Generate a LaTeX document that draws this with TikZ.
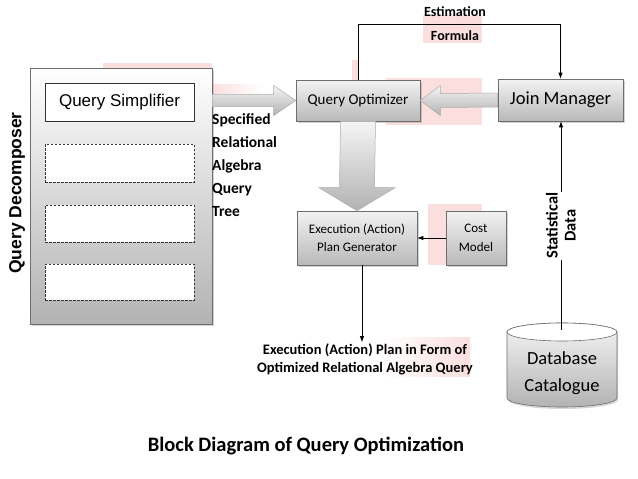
\documentclass[tikz,border=0pt]{standalone}
\usepackage{fontspec}
\setmainfont{Carlito}
\newfontfamily\arialfont{Liberation Sans}
\usetikzlibrary{calc,arrows.meta,shadows}
\definecolor{pinkish}{RGB}{251,222,222}
\definecolor{edgegray}{RGB}{110,110,110}
\tikzset{
  gbox/.style={rectangle, draw=edgegray, line width=0.6pt, inner sep=0pt,
    top color=gray!10, bottom color=gray!55,
    drop shadow={shadow xshift=2pt, shadow yshift=-2pt, opacity=.35, fill=gray}},
  dbox/.style={rectangle, draw=black!80, line width=0.6pt, dash pattern=on 2.5pt off 1.5pt,
    fill=white, minimum width=149pt, inner sep=0pt},
  fatarrow/.style={draw=gray!65, line width=0.5pt, top color=gray!8, bottom color=gray!60},
  conn/.style={draw=black, line width=0.8pt, -{Latex[length=6pt,width=4.5pt]}},
  lbl/.style={font=\bfseries\fontsize{15.5}{23}\selectfont, inner sep=0pt},
  hl/.style={fill=pinkish, draw=none}
}
\begin{document}
\begin{tikzpicture}[x=1pt,y=-1pt]
\useasboundingbox[fill=white] (0,0) rectangle (638,479);

% faint pink highlights
\fill[hl] (103,63) rectangle (212,68);
\fill[hl, left color=pinkish, right color=white] (212,84) rectangle (262,93);
\fill[hl] (386,78) rectangle (482,125);
\fill[hl] (423,15) rectangle (482,43);
\fill[hl] (352,60) rectangle (359,80);
\fill[hl] (428,204) rectangle (482,265);
\fill[hl, left color=white, right color=pinkish] (380,337) rectangle (470,376);

% query decomposer
\node[gbox, top color=white, bottom color=gray!60, minimum width=182pt, minimum height=256pt] (qd) at (121,196) {};
\node[rotate=90, font=\arialfont\bfseries\fontsize{17.5}{20}\selectfont] (qdl) at (17,193) {Query Decomposer};
\node[rectangle, draw=black!80, line width=0.6pt, fill=white, minimum width=149pt, minimum height=38pt, inner sep=0pt,
  font=\arialfont\fontsize{17}{19}\selectfont] (qs) at (119.5,102) {Query Simplifier};
\node[dbox, minimum height=38pt] (d1) at (119.5,163) {};
\node[dbox, minimum height=37pt] (d2) at (119.5,223.5) {};
\node[dbox, minimum height=36pt] (d3) at (119.5,282) {};

% optimizer and join manager
\node[gbox, minimum width=124pt, minimum height=41pt, font=\fontsize{15}{17}\selectfont] (qo) at (358,100.5) {Query Optimizer};
\node[gbox, minimum width=125pt, minimum height=42pt, font=\fontsize{18.5}{21}\selectfont] (jm) at (560.5,100) {Join Manager};

% plan generator and cost model
\node[gbox, minimum width=120pt, minimum height=54pt, align=center, font=\fontsize{13}{18.5}\selectfont] (pg) at (357,238) {Execution (Action)\\Plan Generator};
\node[gbox, minimum width=60pt, minimum height=54pt, align=center, font=\fontsize{13}{18.5}\selectfont] (cm) at (476,238) {Cost\\Model};

% labels
\node[lbl, anchor=north west, align=left] (sral) at (212,113) {Specified\\Relational\\Algebra\\Query\\Tree};
\node[font=\bfseries\fontsize{14}{16}\selectfont, inner sep=0pt] (est) at (455,12) {Estimation};
\node[font=\bfseries\fontsize{14}{16}\selectfont, inner sep=0pt] (form) at (455,36) {Formula};
\node[align=center, font=\bfseries\fontsize{14.5}{18}\selectfont, inner sep=1pt] (outl) at (365,359) {Execution (Action) Plan in Form of\\Optimized Relational Algebra Query};
\node[font=\bfseries\fontsize{20.5}{23}\selectfont] (cap) at (306,446) {Block Diagram of Query Optimization};

% fat arrows
\coordinate (a1s) at (qd.east |- qo.west);
\coordinate (a1t) at (qo.west);
\path[fatarrow] ($(a1s)+(0,-6)$) -- ($(a1t)+(-22,-6)$) -- ($(a1t)+(-22,-15)$) -- (a1t)
  -- ($(a1t)+(-22,15)$) -- ($(a1t)+(-22,6)$) -- ($(a1s)+(0,6)$) -- cycle;
\coordinate (a2s) at (jm.west);
\coordinate (a2t) at (qo.east);
\path[fatarrow] ($(a2s)+(0,-7)$) -- ($(a2t)+(20,-7)$) -- ($(a2t)+(20,-15)$) -- (a2t)
  -- ($(a2t)+(20,15)$) -- ($(a2t)+(20,7)$) -- ($(a2s)+(0,7)$) -- cycle;
\coordinate (a3s) at (qo.south);
\coordinate (a3t) at (pg.north);
\path[fatarrow] ($(a3s)+(-17.5,0)$) -- ($(a3t)+(-17.5,-23)$) -- ($(a3t)+(-38,-23)$) -- (a3t)
  -- ($(a3t)+(38,-23)$) -- ($(a3t)+(17.5,-23)$) -- ($(a3s)+(17.5,0)$) -- cycle;

% database catalogue cylinder
\path[draw=edgegray, line width=0.6pt, top color=gray!8, bottom color=gray!60,
  drop shadow={shadow xshift=1pt, shadow yshift=-2pt, opacity=.3, fill=gray}]
  (507,332) -- (507,398) arc[start angle=180, end angle=0, x radius=55, y radius=9]
  -- (617,332) arc[start angle=0, end angle=-180, x radius=55, y radius=9] -- cycle;
\draw[edgegray, line width=0.6pt, fill=white] (562,332) ellipse[x radius=55, y radius=9];
\node[align=center, font=\fontsize{18.5}{27}\selectfont] (db) at (562,373) {Database\\Catalogue};
\coordinate (dbtop) at (561,330);

% thin connectors
\draw[conn] (qo.north) -- ++(0,-55) -| (jm.north);
\draw[conn] (cm.west) -- (pg.east);
\coordinate (pgo) at ($(pg.south)+(5,0)$);
\draw[conn] (pgo) -- (pgo |- outl.north);
\draw[conn] (dbtop) -- (dbtop |- jm.south)
  node[pos=0.5, rotate=90, fill=white, inner sep=1pt, align=center, font=\bfseries\fontsize{16.5}{18}\selectfont] (sd) {Statistical\\Data};
\end{tikzpicture}
\end{document}
